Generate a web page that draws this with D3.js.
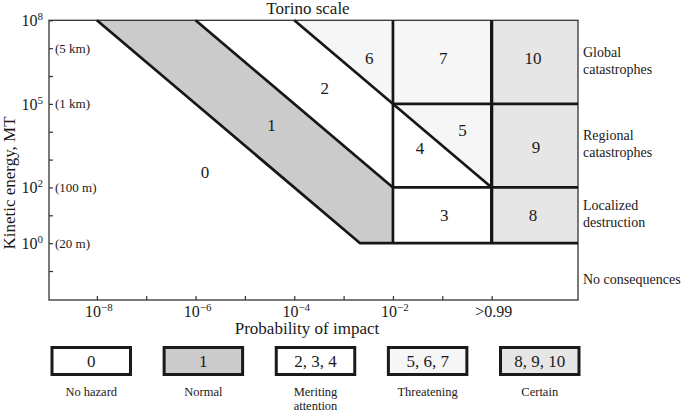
<!DOCTYPE html>
<html><head><meta charset="utf-8">
<script src="https://cdn.jsdelivr.net/npm/d3@7"></script>
<style>
body{margin:0;background:#fff;}
</style></head>
<body><svg id="c" width="685" height="413" font-family="'Liberation Serif', 'Times New Roman', Times, 'DejaVu Serif', serif"></svg>
<script>
// ---- data (exponents of 10) ----
const xDomainExp = [-8.97, 1.75];        // probability of impact, log10
const yDomainExp = [-2.04, 8];           // kinetic energy MT, log10
const xTickExps = [-8,-7,-6,-5,-4,-3,-2,-1,0];
const xLabelExps = [-8,-6,-4,-2,0];
const xLabelText = ["10|−8","10|−6","10|−4","10|−2",">0.99"];
const yTickExps = [-1,0,1,2,3,4,5,6,7,8];
const yLabelExps = [8,5,2,0];
const ySizeExps = [7,5,2,0];
const ySizeText = ["(5 km)","(1 km)","(100 m)","(20 m)"];

// region polygons [log10 P, log10 E] and their fill class
const regionIds   = ["1","6","7","5","10","9","8"];
const regionClass = ["normal","threat","threat","threat","certain","certain","certain"];
const regionPolys = [
  [[-8,8],[-6,8],[-2,2],[-2,0],[-8+8/1.5,0]],
  [[-4,8],[-2,8],[-2,5]],
  [[-2,8],[0,8],[0,5],[-2,5]],
  [[-2,5],[0,5],[0,2]],
  [[0,8],[1.75,8],[1.75,5],[0,5]],
  [[0,5],[1.75,5],[1.75,2],[0,2]],
  [[0,2],[1.75,2],[1.75,0],[0,0]]
];
// boundary lines
const boundaryLines = [
  [[-8,8],[-8+8/1.5,0],[1.75,0]],
  [[-6,8],[-2,2]],
  [[-4,8],[0,2]],
  [[-2,8],[-2,0]],
  [[0,8],[0,0]],
  [[-2,5],[1.75,5]],
  [[-2,2],[1.75,2]]
];
// region number labels at [log10 P, log10 E]
const numText = ["0","1","2","6","7","10","5","4","9","3","8"];
const numPos  = [[-5.81,2.57],[-4.46,4.24],[-3.38,5.56],[-2.48,6.64],[-0.98,6.64],[0.84,6.64],
                 [-0.59,4.06],[-1.45,3.4],[0.9,3.46],[-0.96,1.0],[0.84,1.0]];
// consequence labels on right, at log10 E of first line
const consLines = [["Global","catastrophes"],["Regional","catastrophes"],["Localized","destruction"],["No consequences"]];
const consExp = [6.69, 3.70, 1.19, -1.45];
// legend
const legendText = ["0","1","2, 3, 4","5, 6, 7","8, 9, 10"];
const legendClass = ["none","normal","merit","threat","certain"];
const legendLabel = [["No hazard"],["Normal"],["Meriting","attention"],["Threatening"],["Certain"]];

const fills = {none:"#ffffff", normal:"#cbcbcb", merit:"#ffffff", threat:"#f6f6f6", certain:"#e6e6e6"};

// ---- scales ----
const x = d3.scaleLog().domain(xDomainExp.map(e=>Math.pow(10,e))).range([49,578]);
const y = d3.scaleLog().domain(yDomainExp.map(e=>Math.pow(10,e))).range([300,20.3]);
const P = p => [x(Math.pow(10,p[0])), y(Math.pow(10,p[1]))];

const svg = d3.select("#c");

// regions
svg.append("g").selectAll("path").data(regionPolys).join("path")
  .attr("d", (d)=> "M" + d.map(P).map(q=>q.join(",")).join("L") + "Z")
  .attr("fill", (d,i)=>fills[regionClass[i]]);

// frame
svg.append("rect").attr("x",49).attr("y",20.3).attr("width",578-49).attr("height",300-20.3)
  .attr("fill","none").attr("stroke","#333").attr("stroke-width",1.3);

// boundaries
const line = d3.line().x(d=>P(d)[0]).y(d=>P(d)[1]);
svg.append("g").selectAll("path").data(boundaryLines).join("path")
  .attr("d", line).attr("fill","none").attr("stroke","#161616")
  .attr("stroke-width",(d,i)=> i===4 ? 3.3 : 2.7).attr("stroke-linejoin","miter");

// axes (ticks inward)
const xAxis = d3.axisBottom(x).tickValues(xTickExps.map(e=>Math.pow(10,e))).tickSizeInner(-4).tickSizeOuter(0).tickFormat("");
const gx = svg.append("g").attr("transform","translate(0,300)").call(xAxis);
gx.attr("font-family",null);
gx.select(".domain").remove();
gx.selectAll("line").attr("stroke","#333").attr("stroke-width",1.2);

const yAxis = d3.axisLeft(y).tickValues(yTickExps.map(e=>Math.pow(10,e))).tickSizeInner(-4).tickSizeOuter(0).tickFormat("");
const gy = svg.append("g").attr("transform","translate(49,0)").call(yAxis);
gy.attr("font-family",null);
gy.select(".domain").remove();
gy.selectAll("line").attr("stroke","#333").attr("stroke-width",1.2);

const T = (sel)=>sel.attr("fill","#1a1a1a");

// x labels
xLabelExps.forEach((e,i)=>{
  const parts = xLabelText[i].split("|");
  const t = T(svg.append("text")).attr("x", x(Math.pow(10,e))+2).attr("y",317).attr("text-anchor","middle").attr("font-size",16);
  t.append("tspan").text(parts[0]);
  if(parts[1]) t.append("tspan").attr("dy",-6).attr("font-size",11).text(parts[1]);
});
// y labels
yLabelExps.forEach(e=>{
  const t = T(svg.append("text")).attr("x",43).attr("y", y(Math.pow(10,e))+6).attr("text-anchor","end").attr("font-size",16);
  t.append("tspan").text("10");
  t.append("tspan").attr("dy",-6).attr("font-size",11).text(String(e));
});
ySizeExps.forEach((e,i)=>{
  T(svg.append("text")).attr("x",55).attr("y", y(Math.pow(10,e))+4.5).attr("font-size",13).text(ySizeText[i]);
});

// region numbers
numText.forEach((s,i)=>{
  const q = P(numPos[i]);
  T(svg.append("text")).attr("x",q[0]).attr("y",q[1]+6).attr("text-anchor","middle").attr("font-size",17).text(s);
});

// consequence labels
consLines.forEach((ls,i)=>{
  const y0 = y(Math.pow(10,consExp[i]));
  ls.forEach((s,j)=>T(svg.append("text")).attr("x",583).attr("y",y0+j*17).attr("font-size",14).text(s));
});

// titles
T(svg.append("text")).attr("x",308).attr("y",14).attr("text-anchor","middle").attr("font-size",17).text("Torino scale");
T(svg.append("text")).attr("x",307).attr("y",334).attr("text-anchor","middle").attr("font-size",17).text("Probability of impact");
T(svg.append("text")).attr("transform","translate(15,183) rotate(-90)").attr("text-anchor","middle").attr("font-size",17).text("Kinetic energy, MT");

// legend
const lx = d3.scaleBand().domain(legendText).range([52,579]).paddingInner(0.3).paddingOuter(0);
const lg = svg.append("g");
legendText.forEach((s,i)=>{
  const x0 = lx(s), w = lx.bandwidth();
  lg.append("rect").attr("x",x0).attr("y",347.5).attr("width",w).attr("height",27)
    .attr("fill",fills[legendClass[i]]).attr("stroke","#1a1a1a").attr("stroke-width",3);
  T(lg.append("text")).attr("x",x0+w/2).attr("y",367).attr("text-anchor","middle").attr("font-size",17).text(s);
  legendLabel[i].forEach((l,j)=>T(lg.append("text")).attr("x",x0+w/2).attr("y",396+j*14).attr("text-anchor","middle").attr("font-size",12.5).text(l));
});
</script></body></html>
